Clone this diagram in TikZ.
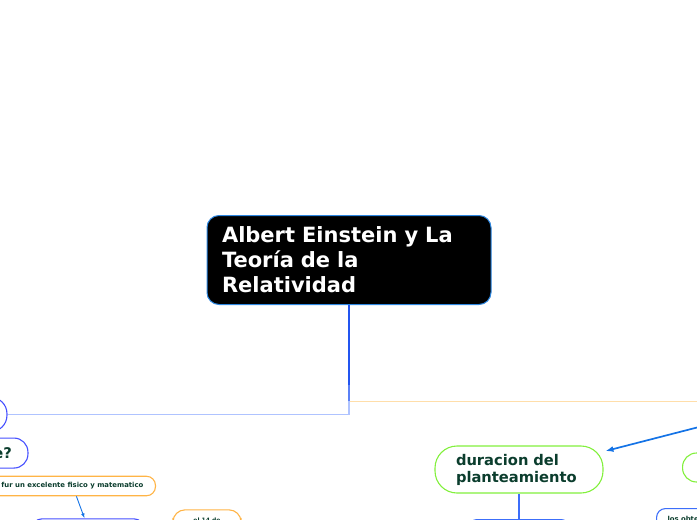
\documentclass[tikz,border=0pt]{standalone}
\usepackage{fontspec}
\setmainfont{DejaVu Sans}
\usetikzlibrary{arrows.meta}
\definecolor{txtgreen}{RGB}{11,61,45}
\definecolor{ctrblue}{RGB}{45,135,225}
\definecolor{bordblue}{RGB}{70,80,255}
\definecolor{bordblueb}{RGB}{60,110,250}
\definecolor{greenb}{RGB}{130,240,60}
\definecolor{orangeb}{RGB}{255,180,70}
\definecolor{lineorange}{RGB}{255,222,170}
\definecolor{lightblue}{RGB}{175,195,255}
\definecolor{midblue}{RGB}{35,85,240}
\definecolor{arrowblue}{RGB}{20,115,230}
\begin{document}
\begin{tikzpicture}[x=1pt,y=1pt,
  every node/.style={font=\bfseries,text=txtgreen},
  topic/.style={draw=#1,line width=1.1pt,inner sep=0pt,fill=white}]
  \useasboundingbox (0,0) rectangle (697,-520);
  \clip (0,0) rectangle (697,-520);
  \coordinate (finR) at (697,-401.5);
  \coordinate (entR) at (697,-427.5);
  \node[draw=ctrblue,fill=black,text=white,line width=1pt,rounded corners=12pt,
    minimum width=284pt,minimum height=89pt,text width=254pt,align=left,
    inner xsep=15pt,inner ysep=0pt,font=\bfseries\fontsize{21}{25}\selectfont]
    (title) at (349,-260) {Albert Einstein y La\\Teoría de la\\Relatividad};
  \node[topic=bordblue,anchor=east,minimum width=60pt,minimum height=34pt,
    rounded corners=16pt] (quien) at (7.5,-414.5) {};
  \node[topic=bordblue,anchor=north east,minimum height=30pt,text width=40pt,
    align=right,inner xsep=16pt,rounded corners=14pt,
    font=\bfseries\fontsize{14.7}{17}\selectfont] (fue) at (28.5,-437.5) {e?};
  \node[topic=orangeb,anchor=north east,minimum height=19.5pt,inner xsep=12pt,
    rounded corners=9pt,font=\bfseries\fontsize{6.9}{8}\selectfont]
    (fisico) at (156,-475.7) {fur un excelente fisico y matematico};
  \node[topic=bordblue,anchor=north,minimum width=112pt,minimum height=30pt,
    rounded corners=10pt] (datos) at (88,-518.3) {};
  \node[topic=orangeb,anchor=north,minimum width=68pt,minimum height=20pt,
    rounded corners=12pt,font=\bfseries\fontsize{6}{7}\selectfont]
    (nacio) at (207,-509.3) {el 14 de};
  \node[topic=greenb,minimum width=168pt,minimum height=47pt,rounded corners=22pt,
    text width=126pt,align=left,inner xsep=21pt,
    font=\bfseries\fontsize{14.7}{17}\selectfont]
    (duracion) at (519,-469.5) {duracion del\\planteamiento};
  \node[topic=greenb,anchor=west,minimum width=60pt,minimum height=29pt,
    rounded corners=14pt] (rama) at (682,-467.5) {};
  \node[topic=bordblueb,anchor=north,minimum width=100pt,minimum height=30pt,
    rounded corners=8pt] (plazo) at (519,-519) {};
  \node[topic=bordblueb,anchor=north west,minimum width=80pt,minimum height=20pt,
    text width=60pt,align=left,inner xsep=11pt,rounded corners=9pt,
    font=\bfseries\fontsize{6.9}{8}\selectfont] (objetos) at (656,-508) {los obte};
  \draw[lineorange,line width=1.6pt] (title.south |- finR) -- (finR);
  \draw[lightblue,line width=1.6pt] (title.south) |- (quien.east);
  \draw[midblue!60!lightblue,line width=1.6pt] (title.south) -- ([yshift=-96pt]title.south);
  \draw[midblue,line width=1.6pt] (title.south) -- ([yshift=-80pt]title.south);
  \draw[arrowblue,line width=1.7pt,shorten >=2pt,-{Latex[length=8pt,width=6pt]}]
    (entR) -- (duracion.12);
  \draw[arrowblue,line width=0.9pt,-{Latex[length=5pt,width=3.5pt]}]
    ([xshift=4pt]fisico.south) -- ([xshift=-3.5pt]datos.north);
  \draw[bordblueb,line width=1.2pt] (duracion.south) -- (plazo.north);
\end{tikzpicture}
\end{document}
